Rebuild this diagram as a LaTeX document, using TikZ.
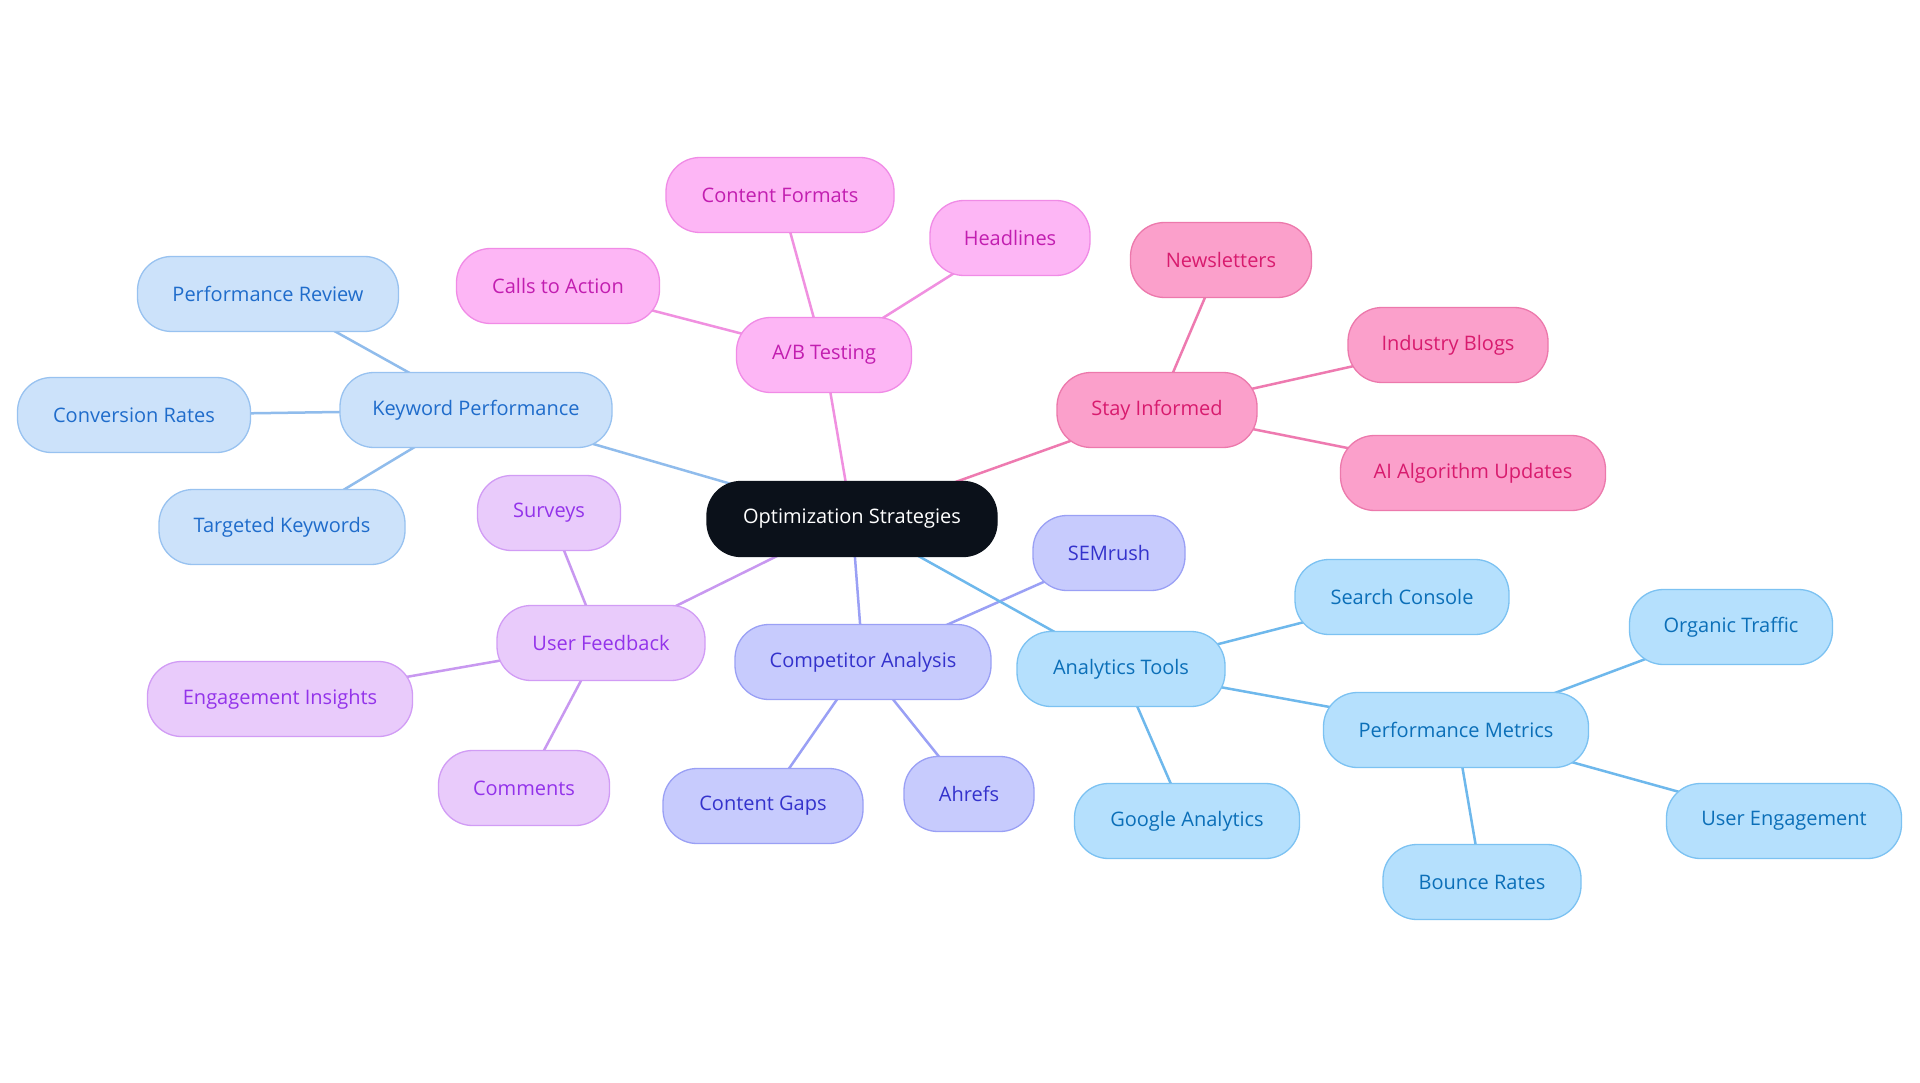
\documentclass[tikz,border=0pt]{standalone}
\usepackage{fontspec}
\setmainfont{Open Sans}
\usetikzlibrary{backgrounds}
\definecolor{rootfill}{HTML}{0B111A}
\definecolor{kwfill}{HTML}{CCE2FA}\definecolor{kwdraw}{HTML}{98C2F0}\definecolor{kwtext}{HTML}{1F6CCB}\definecolor{kwedge}{HTML}{90BCEC}
\definecolor{abfill}{HTML}{FDB6F5}\definecolor{abdraw}{HTML}{F08BE6}\definecolor{abtext}{HTML}{C21EB0}\definecolor{abedge}{HTML}{F090E0}
\definecolor{sifill}{HTML}{FBA0CB}\definecolor{sidraw}{HTML}{EC79AC}\definecolor{sitext}{HTML}{D81B6E}\definecolor{siedge}{HTML}{EE7AB0}
\definecolor{uffill}{HTML}{E9CBFB}\definecolor{ufdraw}{HTML}{D19CF5}\definecolor{uftext}{HTML}{9333EA}\definecolor{ufedge}{HTML}{C898F0}
\definecolor{cafill}{HTML}{C7CBFD}\definecolor{cadraw}{HTML}{9AA0F5}\definecolor{catext}{HTML}{3432CC}\definecolor{caedge}{HTML}{9AA0F5}
\definecolor{atfill}{HTML}{B5E0FD}\definecolor{atdraw}{HTML}{7CC2F2}\definecolor{attext}{HTML}{0B6FB8}\definecolor{atedge}{HTML}{6EB8EC}
\tikzset{
  pill/.style={rectangle, rounded corners=34pt, minimum height=75pt, line width=1.3pt, font=\fontsize{20}{24}\selectfont, inner sep=0pt},
  rootbox/.style={pill, fill=rootfill, draw=rootfill, text=white},
  kwbox/.style={pill, fill=kwfill, draw=kwdraw, text=kwtext},
  abbox/.style={pill, fill=abfill, draw=abdraw, text=abtext},
  sibox/.style={pill, fill=sifill, draw=sidraw, text=sitext},
  ufbox/.style={pill, fill=uffill, draw=ufdraw, text=uftext},
  cabox/.style={pill, fill=cafill, draw=cadraw, text=catext},
  atbox/.style={pill, fill=atfill, draw=atdraw, text=attext},
  link/.style={line width=2.5pt},
}
\begin{document}
\begin{tikzpicture}[x=1pt,y=-1pt]
\useasboundingbox (0,0) rectangle (1920,1083);
% nodes
\node[rootbox, minimum width=290pt] (root) at (852,519) {Optimization Strategies};
\node[kwbox, minimum width=272pt] (kp) at (476,410) {Keyword Performance};
\node[kwbox, minimum width=261pt] (pr) at (268,294) {Performance Review};
\node[kwbox, minimum width=233pt] (cr) at (134,415) {Conversion Rates};
\node[kwbox, minimum width=246pt] (tk) at (282,527) {Targeted Keywords};
\node[abbox, minimum width=175pt] (abt) at (824,355) {A/B Testing};
\node[abbox, minimum width=228pt] (cf) at (780,195) {Content Formats};
\node[abbox, minimum width=160pt] (hl) at (1010,238) {Headlines};
\node[abbox, minimum width=203pt] (cta) at (558,286) {Calls to Action};
\node[sibox, minimum width=200pt] (sinf) at (1157,410) {Stay Informed};
\node[sibox, minimum width=181pt] (nl) at (1221,260) {Newsletters};
\node[sibox, minimum width=200pt] (ib) at (1448,345) {Industry Blogs};
\node[sibox, minimum width=265pt] (ai) at (1473,473) {AI Algorithm Updates};
\node[ufbox, minimum width=208pt] (ufb) at (601,643) {User Feedback};
\node[ufbox, minimum width=143pt] (sv) at (549,513) {Surveys};
\node[ufbox, minimum width=265pt] (ei) at (280,699) {Engagement Insights};
\node[ufbox, minimum width=171pt] (cm) at (524,788) {Comments};
\node[cabox, minimum width=256pt] (can) at (863,662) {Competitor Analysis};
\node[cabox, minimum width=152pt] (sem) at (1109,553) {SEMrush};
\node[cabox, minimum width=200pt] (cg) at (763,806) {Content Gaps};
\node[cabox, minimum width=130pt] (ah) at (969,794) {Ahrefs};
\node[atbox, minimum width=208pt] (atl) at (1121,669) {Analytics Tools};
\node[atbox, minimum width=214pt] (sc) at (1402,597) {Search Console};
\node[atbox, minimum width=225pt] (ga) at (1187,821) {Google Analytics};
\node[atbox, minimum width=265pt] (pm) at (1456,730) {Performance Metrics};
\node[atbox, minimum width=203pt] (ot) at (1731,627) {Organic Traffic};
\node[atbox, minimum width=235pt] (ue) at (1784,821) {User Engagement};
\node[atbox, minimum width=198pt] (br) at (1482,882) {Bounce Rates};
% edges behind
\begin{scope}[on background layer]
\fill[white] (0,0) rectangle (1920,1083);
\draw[link, kwedge] (root.center) -- (kp.center);
\draw[link, kwedge] (kp.center) -- (pr.center);
\draw[link, kwedge] (kp.center) -- (cr.center);
\draw[link, kwedge] (kp.center) -- (tk.center);
\draw[link, abedge] (root.center) -- (abt.center);
\draw[link, abedge] (abt.center) -- (cf.center);
\draw[link, abedge] (abt.center) -- (hl.center);
\draw[link, abedge] (abt.center) -- (cta.center);
\draw[link, siedge] (root.center) -- (sinf.center);
\draw[link, siedge] (sinf.center) -- (nl.center);
\draw[link, siedge] (sinf.center) -- (ib.center);
\draw[link, siedge] (sinf.center) -- (ai.center);
\draw[link, ufedge] (root.center) -- (ufb.center);
\draw[link, ufedge] (ufb.center) -- (sv.center);
\draw[link, ufedge] (ufb.center) -- (ei.center);
\draw[link, ufedge] (ufb.center) -- (cm.center);
\draw[link, caedge] (root.center) -- (can.center);
\draw[link, caedge] (can.center) -- (sem.center);
\draw[link, caedge] (can.center) -- (cg.center);
\draw[link, caedge] (can.center) -- (ah.center);
\draw[link, atedge] (root.center) -- (atl.center);
\draw[link, atedge] (atl.center) -- (sc.center);
\draw[link, atedge] (atl.center) -- (ga.center);
\draw[link, atedge] (atl.center) -- (pm.center);
\draw[link, atedge] (pm.center) -- (ot.center);
\draw[link, atedge] (pm.center) -- (ue.center);
\draw[link, atedge] (pm.center) -- (br.center);
\end{scope}
\end{tikzpicture}
\end{document}
